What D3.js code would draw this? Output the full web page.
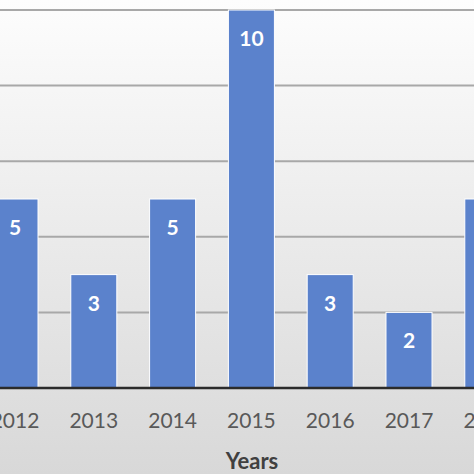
<!DOCTYPE html>
<html>
<head>
<meta charset="utf-8">
<script src="https://cdn.jsdelivr.net/npm/d3@7"></script>
<style>
  html, body { margin: 0; padding: 0; overflow: hidden; }
  svg { display: block; font-family: Lato, "Open Sans", sans-serif; }
</style>
</head>
<body>
<svg id="chart" width="474" height="474"></svg>
<script>
// data
var years = ["2012", "2013", "2014", "2015", "2016", "2017", "2018"];
var counts = [5, 3, 5, 10, 3, 2, 5];
var gridTicks = [0, 2, 4, 6, 8, 10];

var W = 474, H = 474;
var svg = d3.select("#chart");

// background gradient
var grad = svg.append("defs").append("linearGradient")
    .attr("id", "bg").attr("x1", 0).attr("y1", 0).attr("x2", 0).attr("y2", 1);
grad.append("stop").attr("offset", "0%").attr("stop-color", "#fdfdfd");
grad.append("stop").attr("offset", "100%").attr("stop-color", "#d8d8d8");
svg.append("rect").attr("width", W).attr("height", H).attr("fill", "url(#bg)");

var data = years.map(function (y, i) { return {year: y, value: counts[i]}; });

var step = 78.8, firstCenter = 15;
var x = d3.scaleBand()
    .domain(years)
    .range([firstCenter - step / 2, firstCenter - step / 2 + step * years.length])
    .paddingInner(0.416)
    .paddingOuter(0.208);

var y = d3.scaleLinear().domain([0, 10]).range([388, 10]);

// gridlines
svg.append("g").selectAll("line")
    .data(gridTicks.filter(function (d) { return d > 0; }))
    .enter().append("line")
    .attr("x1", 0).attr("x2", W)
    .attr("y1", function (d) { return y(d); })
    .attr("y2", function (d) { return y(d); })
    .attr("stroke", "#a8a8a8")
    .attr("stroke-width", 2);

// bars
svg.append("g").selectAll("rect")
    .data(data)
    .enter().append("rect")
    .attr("x", function (d) { return x(d.year); })
    .attr("y", function (d) { return y(d.value); })
    .attr("width", x.bandwidth())
    .attr("height", function (d) { return y(0) - y(d.value); })
    .attr("fill", "#5b82cc")
    .attr("stroke", "#ffffff")
    .attr("stroke-width", 1);

// value labels
svg.append("g").selectAll("text")
    .data(data)
    .enter().append("text")
    .attr("x", function (d) { return x(d.year) + x.bandwidth() / 2; })
    .attr("y", function (d) { return y(d.value) + 36; })
    .attr("text-anchor", "middle")
    .attr("fill", "#ffffff")
    .attr("font-weight", "bold")
    .attr("font-size", 21)
    .text(function (d) { return d.value; });

// x axis
var xAxis = d3.axisBottom(x).tickSize(0).tickPadding(25);
var gX = svg.append("g")
    .attr("transform", "translate(0," + y(0) + ")")
    .call(xAxis);
gX.select("path.domain").remove();
gX.selectAll("text")
    .attr("fill", "#595959")
    .attr("font-size", 21)
    .attr("font-family", "Lato, 'Open Sans', sans-serif");

svg.append("line")
    .attr("x1", 0).attr("x2", W)
    .attr("y1", y(0)).attr("y2", y(0))
    .attr("stroke", "#2b2b2b")
    .attr("stroke-width", 2.5);

// axis title
svg.append("text")
    .attr("x", 252)
    .attr("y", 469)
    .attr("text-anchor", "middle")
    .attr("fill", "#404040")
    .attr("font-weight", "bold")
    .attr("font-size", 22)
    .text("Years");
</script>
</body>
</html>
